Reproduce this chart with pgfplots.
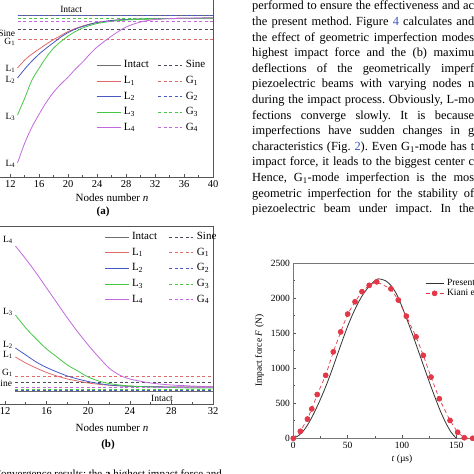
\documentclass[border=0pt]{standalone}
\usepackage{pgfplots}
\usepackage{pgfplotstable}
\pgfplotsset{compat=1.18}
\usepackage{fontspec}
\setmainfont{Liberation Serif}

\definecolor{cInt}{HTML}{6E6E6E}
\definecolor{cL1}{HTML}{E06A6A}
\definecolor{cL2}{HTML}{4759C2}
\definecolor{cL3}{HTML}{45C945}
\definecolor{cL4}{HTML}{C468DE}
\definecolor{cSine}{HTML}{4A4A5A}
\definecolor{cKiani}{HTML}{E23848}
\definecolor{cFrame}{HTML}{555555}
\definecolor{linkblue}{HTML}{3355CC}

% (a) highest impact force vs nodes number
\pgfplotstableread{
n    L1     L2     L3     L4
13   2015   1965   1780   1540
14   2055   2010   1865   1640
15   2085   2050   1955   1720
16   2110   2085   2015   1785
17   2135   2115   2070   1845
18   2157.5 2142.5 2115   1895
19   2177.5 2170   2147.5 1935
20   2197.5 2192.5 2175   1970
21   2212.5 2210   2197.5 2010
22   2225   2222.5 2215   2045
23   2235   2233.5 2227.5 2085
24   2242.5 2242.5 2237.5 2120
26   2252.5 2252.5 2248.5 2175
28   2257.5 2257.5 2255   2220
30   2260   2260   2258.5 2245
32   2261.5 2261.5 2260   2257.5
34   2262.5 2262.5 2261.5 2262
36   2263.5 2263.5 2262.5 2263.5
38   2264   2264   2263.5 2264.5
40   2265   2265   2264   2265
}\tableA

% (b) maximum deflection vs nodes number
\pgfplotstableread{
n    L1     L2     L3    L4
13   3.68   3.86   4.52  5.90
14   3.56   3.72   4.26  5.64
15   3.46   3.58   4.04  5.36
16   3.37   3.47   3.84  5.06
17   3.30   3.38   3.68  4.76
18   3.24   3.30   3.52  4.46
19   3.20   3.24   3.40  4.18
20   3.16   3.19   3.28  3.92
21   3.134  3.15   3.20  3.68
22   3.116  3.12   3.15  3.46
23   3.104  3.104  3.12  3.32
24   3.094  3.094  3.10  3.24
26   3.086  3.086  3.08  3.16
28   3.08   3.08   3.07  3.12
30   3.08   3.08   3.06  3.10
32   3.08   3.08   3.06  3.08
}\tableB

% impact force history
\pgfplotstableread{
t    F
0    0
5    40
10   120
15   240
20   390
25   560
30   745
35   950
40   1170
45   1390
50   1600
55   1785
60   1945
65   2075
70   2175
75   2250
78   2278
80   2275
85   2250
90   2180
95   2060
100  1880
105  1680
110  1470
115  1250
120  1030
125  810
130  600
135  400
140  230
145  90
150  0
}\present

\pgfplotstableread{
t     F
0     0
6.5   100
13    275
17    420
22    625
29.8  900
36.8  1235
43.6  1520
50    1775
56.8  1950
63.2  2095
69.8  2185
76.7  2235
89.8  2135
96.6  1975
104   1745
112.9 1450
119.6 1185
126.7 875
134.3 565
144.2 255
151.2 86
157.3 8
165   0
}\kiani

\tikzset{
  dsh/.style={dash pattern=on 3pt off 2.5pt},
  lbl/.style={font=\fontsize{9.5}{10}\selectfont, inner sep=0pt},
}
\pgfplotsset{
  conv/.style={
    scale only axis, clip mode=individual,
    axis line style={cFrame, line width=0.8pt},
    tick align=inside, tick pos=left,
    tick style={cFrame, line width=0.6pt},
    major tick length=3pt, minor tick length=1.8pt,
    minor x tick num=1,
    /pgf/number format/assume math mode=true,
    ticklabel style={font=\fontsize{10.5}{12}\selectfont},
    yticklabels={}, ytick=\empty,
    legend columns=2, legend cell align=left,
    every axis plot/.append style={line width=0.8pt},
  },
}

\begin{document}
\frenchspacing
\begin{tikzpicture}
\useasboundingbox (0,0) rectangle (474pt,474pt);
\clip (0,0) rectangle (474pt,474pt);

% ---------- (a) ----------
\begin{axis}[conv,
  at={(-4.2pt,297pt)}, anchor=south west,
  width=217.2pt, height=182pt,
  xmin=10, xmax=40, ymin=1470, ymax=2380,
  xtick={12,16,...,40},
  xlabel={Nodes number \textit{n}},
  xlabel style={font=\fontsize{11}{12}\selectfont, at={(axis description cs:0.535,0)}, anchor=center, yshift=-21pt},
  legend image code/.code={\draw[#1] (0pt,0pt) -- (24pt,0pt);},
  legend style={draw=none, fill=none, at={(0.461,0.645)}, anchor=north west,
    font=\fontsize{11}{12}\selectfont, row sep=4.6pt, inner sep=0pt,
    nodes={inner sep=0pt, text height=8pt, text depth=3pt},
    /tikz/every odd column/.append style={column sep=3pt},
    /tikz/every even column/.append style={column sep=9pt}},
]
\addplot[cInt] coordinates {(13,2280) (40,2280)};
\addlegendentry{Intact}
\addplot[cSine, dsh] coordinates {(13,2210) (40,2210)};
\addlegendentry{Sine}
\addplot[cL1, smooth] table[x=n, y=L1] {\tableA};
\addlegendentry{L\textsubscript{1}}
\addplot[cL1, dsh] coordinates {(13,2160) (40,2160)};
\addlegendentry{G\textsubscript{1}}
\addplot[cL2, smooth] table[x=n, y=L2] {\tableA};
\addlegendentry{L\textsubscript{2}}
\addplot[cL2, dsh] coordinates {(13,2277.5) (40,2277.5)};
\addlegendentry{G\textsubscript{2}}
\addplot[cL3, smooth] table[x=n, y=L3] {\tableA};
\addlegendentry{L\textsubscript{3}}
\addplot[cL3, dsh] coordinates {(13,2263) (40,2263)};
\addlegendentry{G\textsubscript{3}}
\addplot[cL4, smooth] table[x=n, y=L4] {\tableA};
\addlegendentry{L\textsubscript{4}}
\addplot[cL4, dsh] coordinates {(13,2246.5) (40,2246.5)};
\addlegendentry{G\textsubscript{4}}
\node[lbl] at (axis cs:20.4,2310) {Intact};
\node[lbl, anchor=east] at (axis cs:12.7,2190) {Sine};
\node[lbl, anchor=east] at (axis cs:12.7,2145) {G\textsubscript{1}};
\node[lbl, anchor=east] at (axis cs:12.7,2010) {L\textsubscript{1}};
\node[lbl, anchor=east] at (axis cs:12.7,1955) {L\textsubscript{2}};
\node[lbl, anchor=east] at (axis cs:12.7,1770) {L\textsubscript{3}};
\node[lbl, anchor=east] at (axis cs:12.7,1535) {L\textsubscript{4}};
\end{axis}
\node[font=\bfseries\fontsize{11}{12}\selectfont] at (103pt,262pt) {(a)};

% ---------- (b) ----------
\begin{axis}[conv,
  at={(-5.4pt,70pt)}, anchor=south west,
  width=218.4pt, height=178pt,
  xmin=11, xmax=32, ymin=2.74, ymax=6.30,
  xtick={12,16,...,32},
  xlabel={Nodes number \textit{n}},
  xlabel style={font=\fontsize{11}{12}\selectfont, at={(axis description cs:0.5375,0)}, anchor=center, yshift=-24pt},
  legend image code/.code={\draw[#1] (0pt,0pt) -- (24pt,0pt);},
  legend style={draw=none, fill=none, at={(0.501,0.969)}, anchor=north west,
    font=\fontsize{11}{12}\selectfont, row sep=4.6pt, inner sep=0pt,
    nodes={inner sep=0pt, text height=8pt, text depth=3pt},
    /tikz/every odd column/.append style={column sep=3pt},
    /tikz/every even column/.append style={column sep=12pt}},
]
\addplot[cInt] coordinates {(13,3.00) (32,3.00)};
\addlegendentry{Intact}
\addplot[cSine, dsh] coordinates {(13,3.17) (32,3.17)};
\addlegendentry{Sine}
\addplot[cL1, smooth] table[x=n, y=L1] {\tableB};
\addlegendentry{L\textsubscript{1}}
\addplot[cL1, dsh] coordinates {(13,3.30) (32,3.30)};
\addlegendentry{G\textsubscript{1}}
\addplot[cL2, smooth] table[x=n, y=L2] {\tableB};
\addlegendentry{L\textsubscript{2}}
\addplot[cL2, dsh] coordinates {(13,3.02) (32,3.02)};
\addlegendentry{G\textsubscript{2}}
\addplot[cL3, smooth] table[x=n, y=L3] {\tableB};
\addlegendentry{L\textsubscript{3}}
\addplot[cL3, dsh] coordinates {(13,3.04) (32,3.04)};
\addlegendentry{G\textsubscript{3}}
\addplot[cL4, smooth] table[x=n, y=L4] {\tableB};
\addlegendentry{L\textsubscript{4}}
\addplot[cL4, dsh] coordinates {(13,3.08) (32,3.08)};
\addlegendentry{G\textsubscript{4}}
\node[lbl] at (axis cs:27.1,2.86) {Intact};
\node[lbl, anchor=east] at (axis cs:12.7,3.16) {Sine};
\node[lbl, anchor=east] at (axis cs:12.77,3.36) {G\textsubscript{1}};
\node[lbl, anchor=east] at (axis cs:12.77,3.72) {L\textsubscript{1}};
\node[lbl, anchor=east] at (axis cs:12.77,3.92) {L\textsubscript{2}};
\node[lbl, anchor=east] at (axis cs:12.77,4.58) {L\textsubscript{3}};
\node[lbl, anchor=east] at (axis cs:12.77,6.02) {L\textsubscript{4}};
\end{axis}
\node[font=\bfseries\fontsize{11}{12}\selectfont] at (108pt,29pt) {(b)};

% ---------- impact force history ----------
\begin{axis}[scale only axis,
  at={(293.3pt,35.7pt)}, anchor=south west,
  width=217.4pt, height=175pt,
  xmin=0, xmax=200, ymin=0, ymax=2500,
  axis line style={cFrame!80, line width=1.1pt},
  tick align=inside, tick pos=left,
  tick style={cFrame, line width=0.6pt},
  major tick length=3pt, minor tick length=1.8pt,
  xtick={0,50,100,150}, minor x tick num=1,
  ytick={0,500,...,2500}, minor y tick num=1,
  /pgf/number format/assume math mode=true,
  /pgf/number format/set thousands separator={},
  ticklabel style={font=\fontsize{9.5}{11}\selectfont},
  label style={font=\fontsize{9.5}{11}\selectfont},
  xlabel={\textit{t} (µs)},
  ylabel={Impact force \textit{F} (N)},
  legend image code/.code={\draw[#1, mark repeat=2, mark phase=2] plot coordinates {(0pt,0pt) (9pt,0pt) (18pt,0pt)};},
  legend style={draw=none, fill=none, at={(0.606,0.911)}, anchor=north west,
    font=\fontsize{9.5}{10}\selectfont, row sep=1.5pt, inner sep=0pt,
    nodes={inner sep=0pt, text height=6.5pt, text depth=2pt},
    /tikz/every odd column/.append style={column sep=3pt}},
  legend cell align=left,
]
\addplot[black!80, line width=0.8pt, smooth] table[x=t, y=F] {\present};
\addlegendentry{Present}
\addplot[cKiani, line width=0.7pt, dash pattern=on 4pt off 3pt, mark=*, mark size=2.5pt, mark options={solid}] table[x=t, y=F] {\kiani};
\addlegendentry{Kiani et al. [22]}
\end{axis}

% ---------- body text ----------
\begin{scope}[every node/.style={anchor=base west, inner sep=0pt, font=\fontsize{12.4}{15.6}\selectfont}]
\node at (252pt,464.0pt) {\makebox[222pt][s]{performed to ensure the effectiveness and ac}};
\node at (252pt,448.4pt) {\makebox[222pt][s]{the present method. Figure \textcolor{linkblue}{4} calculates and}};
\node at (252pt,432.8pt) {\makebox[222pt][s]{the effect of geometric imperfection modes}};
\node at (252pt,417.2pt) {\makebox[222pt][s]{highest impact force and the (b) maximu}};
\node at (252pt,401.6pt) {\makebox[222pt][s]{deflections of the geometrically imperf}};
\node at (252pt,386.0pt) {\makebox[222pt][s]{piezoelectric beams with varying nodes n}};
\node at (252pt,370.4pt) {\makebox[222pt][s]{during the impact process. Obviously, L-mo}};
\node at (252pt,354.8pt) {\makebox[222pt][s]{fections converge slowly. It is because}};
\node at (252pt,339.2pt) {\makebox[222pt][s]{imperfections have sudden changes in g}};
\node at (252pt,323.6pt) {\makebox[222pt][s]{characteristics (Fig. \textcolor{linkblue}{2}). Even G\textsubscript{1}-mode has t}};
\node at (252pt,308.0pt) {\makebox[222pt][s]{impact force, it leads to the biggest center c}};
\node at (252pt,292.4pt) {\makebox[222pt][s]{Hence, G\textsubscript{1}-mode imperfection is the mos}};
\node at (252pt,276.8pt) {\makebox[222pt][s]{geometric imperfection for the stability of}};
\node at (252pt,261.2pt) {\makebox[222pt][s]{piezoelectric beam under impact. In the}};
\node[anchor=base east, font=\fontsize{11}{12}\selectfont] at (222pt,-3pt) {Convergence results: the \textbf{a} highest impact force and};
\end{scope}
\end{tikzpicture}
\end{document}
